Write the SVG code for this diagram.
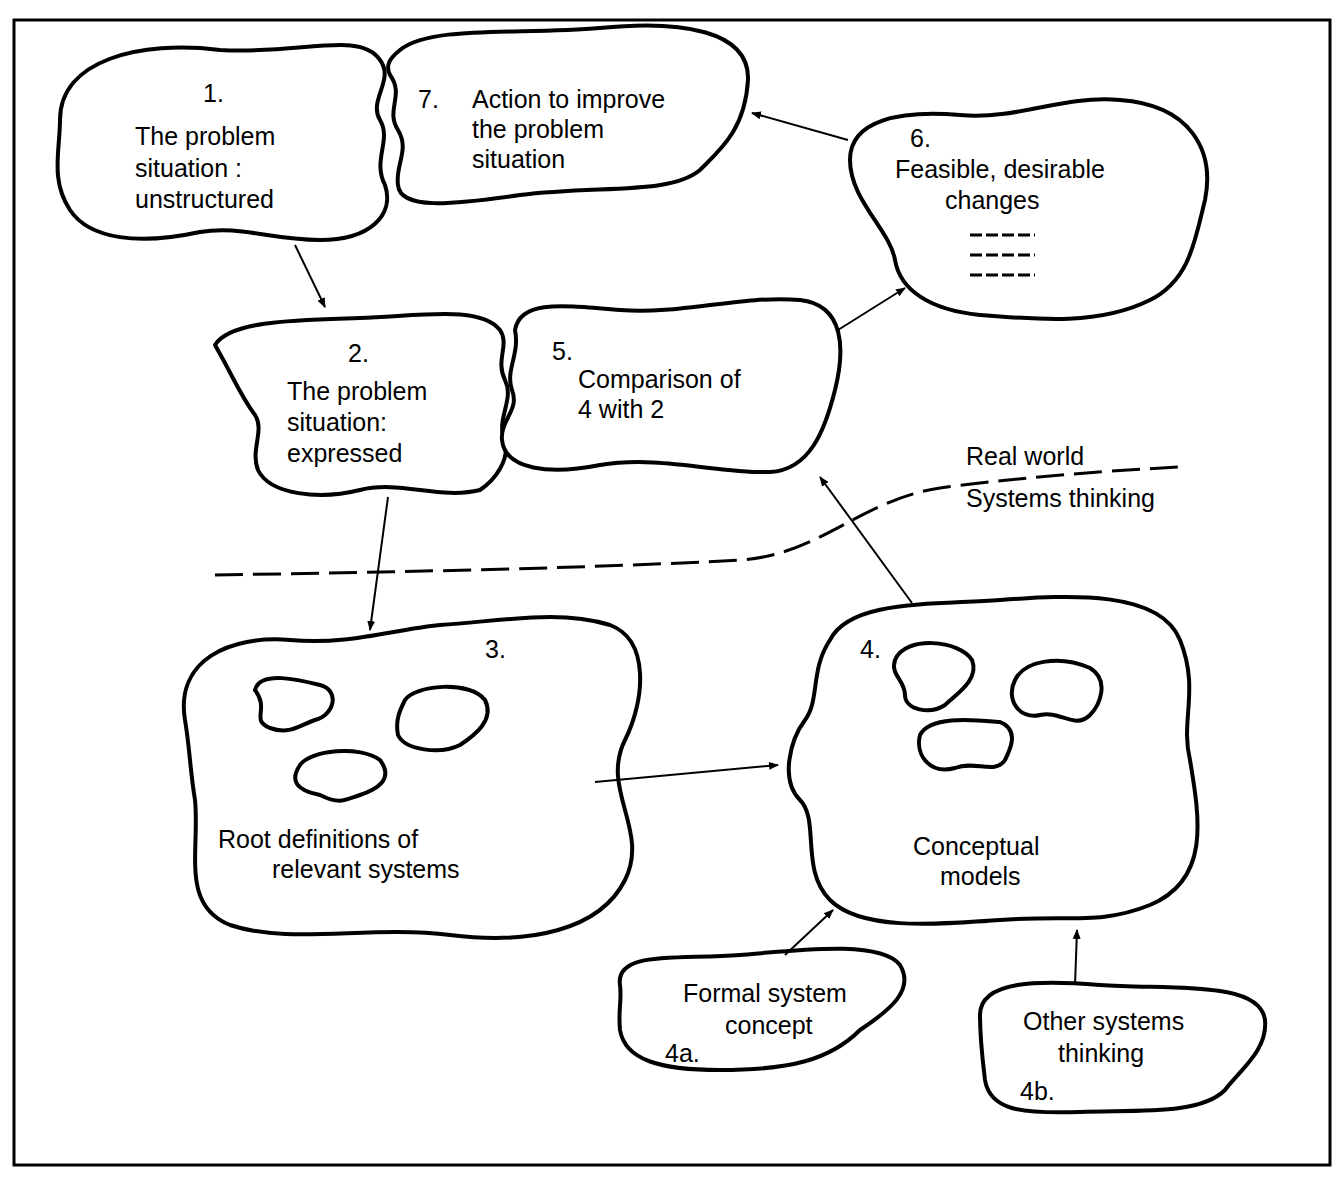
<svg xmlns="http://www.w3.org/2000/svg" width="1334" height="1184" viewBox="0 0 1334 1184">
<style>
.b{fill:#fff;stroke:#000;stroke-width:4;stroke-linejoin:round}
.i{fill:none;stroke:#000;stroke-width:4}
.t{font-family:"Liberation Sans",Arial,sans-serif;font-size:25px;fill:#000}
.a{stroke:#000;stroke-width:2;fill:none;marker-end:url(#ah)}
</style>
<defs><marker id="ah" viewBox="0 0 10 10" refX="9" refY="5" markerWidth="10" markerHeight="10" markerUnits="userSpaceOnUse" orient="auto"><path d="M0,1 L10,5 L0,9 Z" fill="#000"/></marker></defs>
<rect x="0" y="0" width="1334" height="1184" fill="#fff"/>
<rect x="14" y="20" width="1316" height="1145" fill="none" stroke="#000" stroke-width="3"/>
<g id="n1"><path class="b" d="M60,120 C60,60 140,40 220,50 C300,55 360,30 380,60 C395,80 368,100 380,120 C392,140 372,160 385,185 C395,215 370,240 320,240 C270,240 240,225 200,232 C140,245 90,240 70,210 C50,180 60,150 60,120 Z"/>
<text class="t" x="203" y="102">1.</text><text class="t" x="135" y="145">The problem</text><text class="t" x="135" y="177">situation :</text><text class="t" x="135" y="208">unstructured</text></g>
<g id="n7"><path class="b" d="M400,50 C430,25 520,35 600,28 C680,20 750,30 748,80 C745,130 720,150 700,170 C670,195 600,185 520,195 C450,205 400,210 398,185 C395,165 410,150 398,130 C385,110 405,95 390,75 C385,65 390,58 400,50 Z"/>
<text class="t" x="418" y="108">7.</text><text class="t" x="472" y="108">Action to improve</text><text class="t" x="472" y="138">the problem</text><text class="t" x="472" y="168">situation</text></g>
<g id="n6"><path class="b" d="M850,160 C850,120 900,110 960,115 C1020,120 1060,95 1120,100 C1190,105 1215,150 1205,200 C1195,240 1190,280 1150,300 C1100,325 1040,320 980,315 C930,310 900,290 895,260 C890,230 850,200 850,160 Z"/>
<text class="t" x="910" y="147">6.</text><text class="t" x="895" y="178">Feasible, desirable</text><text class="t" x="945" y="209">changes</text>
<path d="M970,235 H1035 M970,255 H1035 M970,275 H1035" stroke="#000" stroke-width="3" stroke-dasharray="12,4"/></g>
<g id="n2"><path class="b" d="M215,345 C230,320 300,320 360,318 C420,316 480,305 500,330 C510,345 495,360 505,380 C515,400 495,420 505,440 C510,460 495,480 480,490 C440,500 400,480 360,490 C320,500 270,495 258,470 C250,450 265,430 255,415 C240,395 235,380 215,345 Z"/>
<text class="t" x="348" y="362">2.</text><text class="t" x="287" y="400">The problem</text><text class="t" x="287" y="431">situation:</text><text class="t" x="287" y="462">expressed</text></g>
<g id="n5"><path class="b" d="M515,330 C520,300 560,305 620,310 C680,315 740,295 800,300 C845,305 845,350 835,390 C825,430 810,470 770,472 C720,474 660,455 600,465 C550,475 505,470 502,440 C500,420 520,410 512,390 C505,370 520,355 515,330 Z"/>
<text class="t" x="552" y="360">5.</text><text class="t" x="578" y="388">Comparison of</text><text class="t" x="578" y="418">4 with 2</text></g>
<g id="n3"><path class="b" d="M185,720 C175,660 230,635 290,640 C350,645 390,630 440,625 C510,620 560,610 610,625 C650,640 645,700 625,740 C600,790 650,830 625,880 C600,930 530,945 450,935 C370,925 290,945 230,925 C180,905 200,850 195,800 C190,770 190,750 185,720 Z"/>
<path class="i" d="M255,690 C260,670 300,680 320,685 C340,690 335,715 315,720 C300,725 290,735 270,728 C250,720 270,710 255,690 Z"/>
<path class="i" d="M405,700 C415,685 470,680 485,700 C495,720 475,735 460,745 C440,755 405,750 398,735 C395,720 400,710 405,700 Z"/>
<path class="i" d="M300,765 C310,750 360,745 380,760 C395,780 375,790 360,795 C345,800 340,805 320,795 C295,790 290,780 300,765 Z"/>
<text class="t" x="485" y="658">3.</text><text class="t" x="218" y="848">Root definitions of</text><text class="t" x="272" y="878">relevant systems</text></g>
<g id="n4"><path class="b" d="M830,640 C850,600 930,605 1000,600 C1070,595 1160,590 1180,640 C1200,690 1180,720 1190,760 C1200,820 1210,880 1150,905 C1100,925 1070,915 1000,920 C930,925 860,930 830,900 C800,870 820,820 800,800 C780,780 790,740 805,720 C820,700 810,670 830,640 Z"/>
<path class="i" d="M895,660 C905,635 960,640 972,660 C980,680 955,695 945,705 C930,715 905,710 905,695 C905,680 890,675 895,660 Z"/>
<path class="i" d="M1015,680 C1025,660 1060,655 1090,668 C1110,680 1100,705 1090,715 C1075,730 1060,710 1040,715 C1020,720 1005,700 1015,680 Z"/>
<path class="i" d="M920,735 C930,715 975,720 1000,722 C1020,730 1010,750 1005,760 C995,775 975,760 955,768 C930,775 915,755 920,735 Z"/>
<text class="t" x="860" y="658">4.</text><text class="t" x="913" y="855">Conceptual</text><text class="t" x="940" y="885">models</text></g>
<g id="n4a"><path class="b" d="M620,985 C615,950 680,960 740,955 C800,950 880,940 900,965 C915,990 890,1010 860,1030 C830,1060 790,1070 720,1070 C660,1070 625,1060 620,1030 C618,1010 622,1000 620,985 Z"/>
<text class="t" x="683" y="1002">Formal system</text><text class="t" x="725" y="1034">concept</text><text class="t" x="665" y="1062">4a.</text></g>
<g id="n4b"><path class="b" d="M980,1015 C980,980 1040,980 1100,985 C1170,990 1260,980 1265,1020 C1268,1050 1240,1070 1225,1090 C1200,1115 1140,1110 1080,1112 C1020,1114 990,1110 985,1080 C982,1055 980,1040 980,1015 Z"/>
<text class="t" x="1023" y="1030">Other systems</text><text class="t" x="1058" y="1062">thinking</text><text class="t" x="1020" y="1100">4b.</text></g>
<g id="boundary">
<path d="M215,575 C400,572 600,568 740,560 C820,555 860,500 940,488 C1030,476 1120,470 1180,467" fill="none" stroke="#000" stroke-width="3" stroke-dasharray="28,10"/>
<text class="t" x="966" y="465" font-size="23">Real world</text><text class="t" x="966" y="507">Systems thinking</text></g>
<g id="connectors">
<path class="a" d="M295,245 L325,307"/>
<path class="a" d="M388,497 L370,630"/>
<path class="a" d="M595,782 L778,765"/>
<path class="a" d="M912,603 L820,477"/>
<path class="a" d="M838,330 L905,288"/>
<path class="a" d="M848,140 L752,113"/>
<path class="a" d="M785,955 L833,910"/>
<path class="a" d="M1075,985 L1077,930"/>
</g>
</svg>
